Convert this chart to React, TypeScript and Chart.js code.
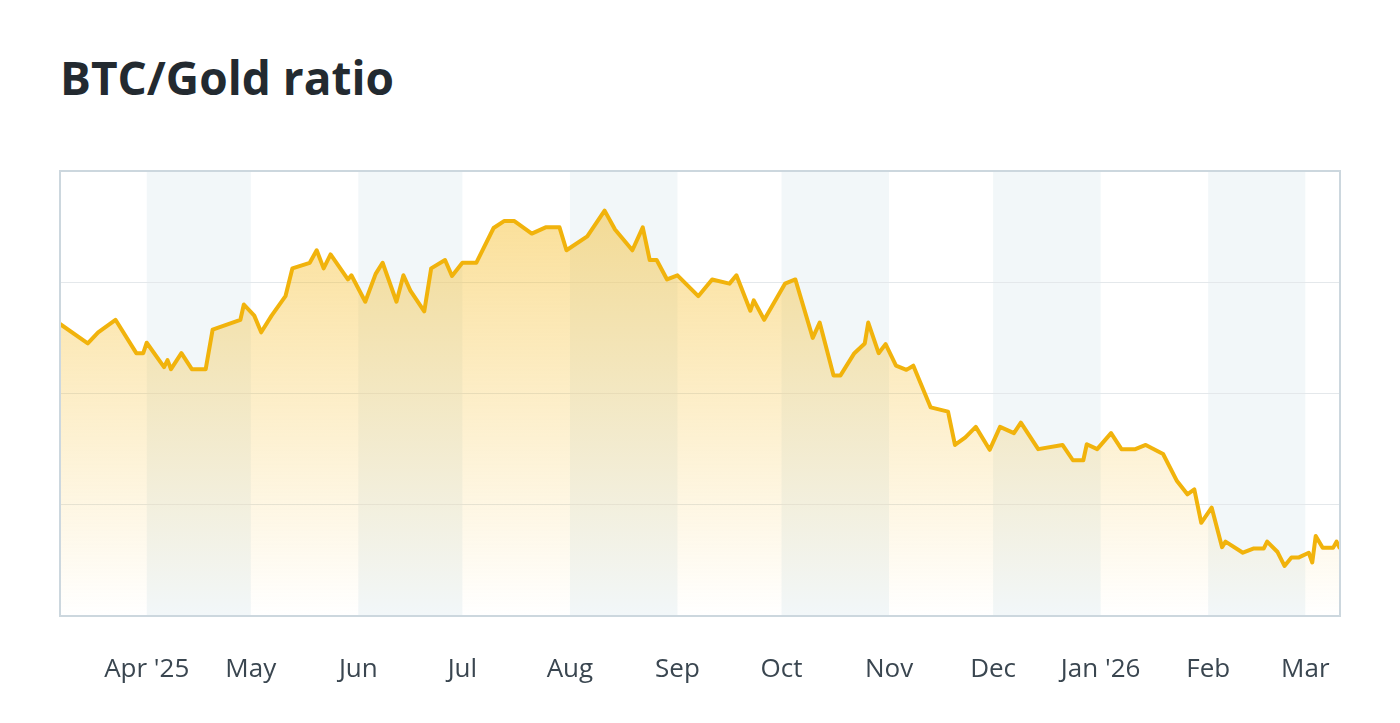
import React, { useEffect, useRef } from "react";
import { Chart, registerables } from "chart.js";

Chart.register(...registerables);

// Day offsets counted from 2025-03-07
const START_DATE = Date.UTC(2025, 2, 7);
const DAY_MS = 86400000;

const days = [
  0, 8, 11, 16, 22, 24, 25, 30, 31, 32, 35, 38, 42, 44, 52, 53, 56, 58, 61, 65,
  67, 72, 74, 76, 78, 83, 84, 88, 91, 93, 97, 99, 101, 105, 107, 111, 113, 116, 120, 125,
  128, 131, 136, 140, 144, 146, 152, 157, 160, 165, 168, 170, 172, 175, 178, 184, 188, 193, 195, 199,
  200, 203, 209, 212, 217, 219, 223, 225, 229, 232, 233, 236, 238, 241, 244, 246, 251, 256, 258, 261,
  264, 268, 271, 275, 277, 282, 289, 292, 295, 296, 299, 303, 306, 310, 313, 318, 322, 325, 327, 329,
  332, 335, 336, 341, 344, 347, 348, 351, 353, 355, 357, 360, 361, 362, 364, 367, 368, 369,
];

const ratio = [
  29.0, 27.6, 28.4, 29.3, 26.9, 26.9, 27.65, 25.9, 26.4, 25.75, 26.9, 25.75, 25.75, 28.6, 29.3, 30.4, 29.6, 28.4, 29.6, 31.0,
  33.0, 33.4, 34.3, 33.0, 34.0, 32.2, 32.5, 30.6, 32.6, 33.4, 30.6, 32.5, 31.4, 29.9, 33.0, 33.6, 32.45, 33.4, 33.4, 35.9,
  36.4, 36.4, 35.5, 35.95, 35.95, 34.3, 35.3, 37.15, 35.8, 34.3, 35.95, 33.6, 33.6, 32.2, 32.5, 31.0, 32.2, 31.9, 32.5, 29.95,
  30.7, 29.3, 31.9, 32.2, 28.0, 29.1, 25.3, 25.3, 26.9, 27.6, 29.1, 26.9, 27.55, 26.0, 25.7, 26.0, 23.0, 22.7, 20.3, 20.85,
  21.6, 19.95, 21.6, 21.15, 21.9, 20.0, 20.3, 19.2, 19.2, 20.35, 20.0, 21.15, 20.0, 20.0, 20.3, 19.65, 17.7, 16.75, 17.1, 14.7,
  15.8, 12.95, 13.35, 12.55, 12.85, 12.85, 13.35, 12.6, 11.6, 12.2, 12.2, 12.55, 11.85, 13.75, 12.9, 12.9, 13.35, 12.85,
];

const monthStarts = [
  "2025-04-01", "2025-05-01", "2025-06-01", "2025-07-01", "2025-08-01", "2025-09-01",
  "2025-10-01", "2025-11-01", "2025-12-01", "2026-01-01", "2026-02-01", "2026-03-01",
];
const monthLabels = ["Apr '25", "May", "Jun", "Jul", "Aug", "Sep", "Oct", "Nov", "Dec", "Jan '26", "Feb", "Mar"];
const shadedMonthIdx = [0, 2, 4, 6, 8, 10];

const X_MIN = 0;
const X_MAX = 369;
const Y_MIN = 8;
const Y_MAX = 40;
const Y_STEP = 8;

const toDay = (iso: string) => {
  const [y, m, d] = iso.split("-").map(Number);
  return Math.round((Date.UTC(y, m - 1, d) - START_DATE) / DAY_MS);
};
const monthTicks = monthStarts.map(toDay);

const FONT = "'Open Sans', 'Noto Sans', sans-serif";

export default function App() {
  const canvasRef = useRef<HTMLCanvasElement | null>(null);

  useEffect(() => {
    const canvas = canvasRef.current;
    if (!canvas) return;

    const bandsPlugin = {
      id: "monthBands",
      beforeDraw(chart: any) {
        const { ctx, chartArea } = chart;
        const xs = chart.scales.x;
        ctx.save();
        ctx.fillStyle = "#f2f7f9";
        shadedMonthIdx.forEach((i) => {
          const a = xs.getPixelForValue(monthTicks[i]);
          const b = i + 1 < monthTicks.length ? xs.getPixelForValue(monthTicks[i + 1]) : chartArea.right;
          ctx.fillRect(a, chartArea.top, b - a, chartArea.bottom - chartArea.top);
        });
        ctx.restore();
      },
      afterDraw(chart: any) {
        const { ctx, chartArea } = chart;
        ctx.save();
        ctx.strokeStyle = "#ccd7de";
        ctx.lineWidth = 2;
        ctx.strokeRect(chartArea.left, chartArea.top, chartArea.right - chartArea.left, chartArea.bottom - chartArea.top);
        ctx.restore();
      },
    };

    const chart = new Chart(canvas, {
      type: "line",
      data: {
        datasets: [
          {
            label: "BTC/Gold ratio",
            data: days.map((d, i) => ({ x: d, y: ratio[i] })),
            borderColor: "#f1b30c",
            borderWidth: 4,
            borderJoinStyle: "round",
            pointRadius: 0,
            tension: 0,
            fill: "start",
            backgroundColor: (ctx: any) => {
              const { chart } = ctx;
              const area = chart.chartArea;
              if (!area) return "rgba(245,185,30,0.3)";
              const g = chart.ctx.createLinearGradient(0, area.top, 0, area.bottom);
              g.addColorStop(0, "rgba(245,185,30,0.5)");
              g.addColorStop(0.5, "rgba(245,185,30,0.25)");
              g.addColorStop(1, "rgba(245,185,30,0.0)");
              return g;
            },
          },
        ],
      },
      options: {
        animation: false,
        responsive: false,
        devicePixelRatio: 1,
        layout: { padding: { left: 60, right: 60, top: 171, bottom: 10 } },
        plugins: {
          legend: { display: false },
          title: { display: false },
          tooltip: { enabled: false },
        },
        scales: {
          x: {
            type: "linear",
            min: X_MIN,
            max: X_MAX,
            afterBuildTicks: (scale: any) => {
              scale.ticks = monthTicks.map((v) => ({ value: v }));
            },
            afterFit: (scale: any) => {
              scale.height = 97;
            },
            ticks: {
              autoSkip: false,
              maxRotation: 0,
              padding: 38,
              color: "#3a4650",
              font: { family: FONT, size: 26 },
              callback: (value: any) => {
                const idx = monthTicks.indexOf(Number(value));
                return idx >= 0 ? monthLabels[idx] : "";
              },
            },
            grid: { display: false, drawTicks: false },
            border: { display: false },
          },
          y: {
            min: Y_MIN,
            max: Y_MAX,
            ticks: { display: false, stepSize: Y_STEP },
            afterFit: (scale: any) => {
              scale.width = 0;
            },
            grid: { color: "#e4e8eb", lineWidth: 1, drawTicks: false },
            border: { display: false },
          },
        },
      },
      plugins: [bandsPlugin],
    } as any);

    return () => chart.destroy();
  }, []);

  return (
    <div style={{ position: "fixed", left: 0, top: 0, width: 1400, height: 723, background: "#ffffff" }}>
      <div
        style={{
          position: "absolute",
          left: 60,
          top: 54,
          fontFamily: FONT,
          fontWeight: 700,
          fontSize: 46,
          lineHeight: "46px",
          color: "#232a30",
          whiteSpace: "nowrap",
        }}
      >
        BTC/Gold ratio
      </div>
      <canvas ref={canvasRef} width={1400} height={723} style={{ position: "absolute", left: 0, top: 0 }} />
    </div>
  );
}
